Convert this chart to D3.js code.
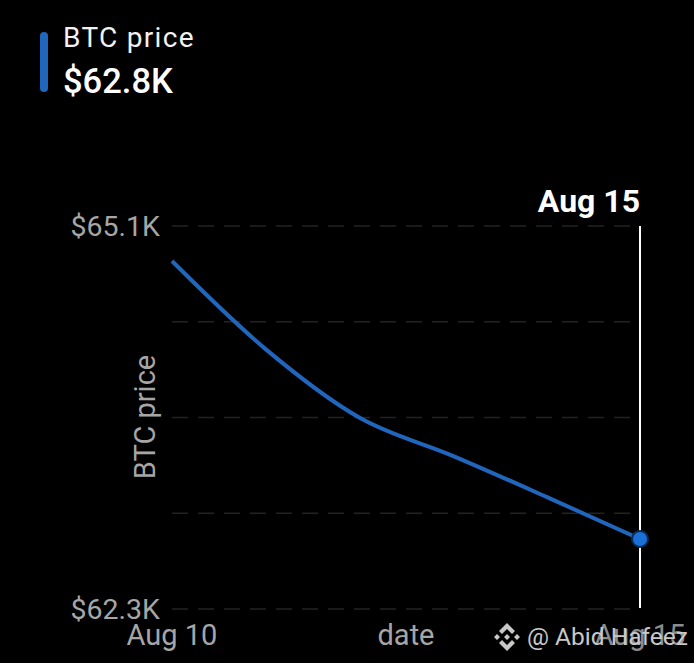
<!DOCTYPE html>
<html>

<head>
  <meta charset="utf-8">
  <script src="https://d3js.org/d3.v7.min.js"></script>
  <style>
    html, body {
      margin: 0;
      padding: 0;
      background: #000;
    }
    text {
      font-family: Roboto, sans-serif;
    }
  </style>
</head>

<body>
  <script>
    // values
    var days = [10, 11, 12, 13, 14, 15];
    var prices = [64.844, 64.2, 63.7, 63.42, 63.12, 62.812];
    var yTicks = [62.3, 63.0, 63.7, 64.4, 65.1];
    var yTickLabels = ["$62.3K", "", "", "", "$65.1K"];

    var seriesName = "BTC price";
    var currentLabel = "$62.8K";
    var xStart = "Aug 10";
    var xEnd = "Aug 15";
    var xTitle = "date";
    var watermark = "@ Abid Hafeez";

    var width = 694,
      height = 663;

    var svg = d3.select("body")
      .append("svg")
      .attr("width", width)
      .attr("height", height)
      .style("display", "block");

    var x = d3.scaleLinear().domain([10, 15]).range([172, 640]);
    var y = d3.scaleLinear().domain([62.3, 65.1]).range([609, 226]);

    // dashed grid
    svg.selectAll(".grid")
      .data(yTicks)
      .enter()
      .append("line")
      .attr("class", "grid")
      .attr("x1", 172)
      .attr("x2", 632)
      .attr("y1", function(d) { return y(d); })
      .attr("y2", function(d) { return y(d); })
      .attr("stroke", "#232323")
      .attr("stroke-width", 1.5)
      .attr("stroke-dasharray", "16,10");

    // y tick labels
    svg.selectAll(".ytick")
      .data(yTicks)
      .enter()
      .append("text")
      .attr("class", "ytick")
      .attr("x", 160)
      .attr("y", function(d) { return y(d) + 10; })
      .attr("text-anchor", "end")
      .attr("fill", "#a6a6a6")
      .style("font-size", "28.5px")
      .text(function(d, i) { return yTickLabels[i]; });

    // x labels
    svg.append("text")
      .attr("x", x(10))
      .attr("y", 645)
      .attr("text-anchor", "middle")
      .attr("fill", "#a6a6a6")
      .style("font-size", "29px")
      .text(xStart);

    svg.append("text")
      .attr("x", 640)
      .attr("y", 645)
      .attr("text-anchor", "middle")
      .attr("fill", "#8c8c8c")
      .style("font-size", "29px")
      .text(xEnd);

    svg.append("text")
      .attr("x", 406)
      .attr("y", 645)
      .attr("text-anchor", "middle")
      .attr("fill", "#a6a6a6")
      .style("font-size", "29px")
      .text(xTitle);

    // y axis title
    svg.append("text")
      .attr("transform", "translate(155,417) rotate(-90)")
      .attr("text-anchor", "middle")
      .attr("fill", "#a6a6a6")
      .style("font-size", "29px")
      .text(seriesName);

    // cursor line
    svg.append("line")
      .attr("x1", x(15))
      .attr("x2", x(15))
      .attr("y1", 226)
      .attr("y2", 608)
      .attr("stroke", "#fff")
      .attr("stroke-width", 2);

    svg.append("text")
      .attr("x", 640)
      .attr("y", 212)
      .attr("text-anchor", "end")
      .attr("fill", "#fff")
      .style("font-size", "32px")
      .style("font-weight", 700)
      .text(xEnd);

    // price line
    var line = d3.line()
      .x(function(d, i) { return x(days[i]); })
      .y(function(d) { return y(d); })
      .curve(d3.curveMonotoneX);

    svg.append("path")
      .attr("d", line(prices))
      .attr("fill", "none")
      .attr("stroke", "#2166bd")
      .attr("stroke-width", 4);

    svg.append("circle")
      .attr("cx", x(15))
      .attr("cy", y(prices[prices.length - 1]))
      .attr("r", 8)
      .attr("fill", "#1a70d8")
      .attr("stroke", "#0b2a52")
      .attr("stroke-width", 2);

    // legend
    svg.append("rect")
      .attr("x", 40)
      .attr("y", 32)
      .attr("width", 8)
      .attr("height", 60)
      .attr("rx", 4)
      .attr("fill", "#2166bd");

    svg.append("text")
      .attr("x", 63)
      .attr("y", 47)
      .attr("fill", "#f2f2f2")
      .style("font-size", "28px")
      .style("letter-spacing", "1.3px")
      .text(seriesName);

    svg.append("text")
      .attr("x", 63)
      .attr("y", 93)
      .attr("fill", "#fff")
      .style("font-size", "34.5px")
      .style("font-weight", 500)
      .text(currentLabel);

    // watermark with the diamond logo
    var logo = svg.append("g")
      .attr("transform", "translate(507,637)")
      .attr("fill", "#c8c8c8");

    logo.append("path")
      .attr("d", "M0,-14L8,-6L5,-3L0,-8L-5,-3L-8,-6ZM0,14L8,6L5,3L0,8L-5,3L-8,6ZM0,-3L3,0L0,3L-3,0ZM-13,0L-10,-3L-7,0L-10,3ZM13,0L10,-3L7,0L10,3Z");

    svg.append("text")
      .attr("x", 527)
      .attr("y", 645)
      .attr("fill", "#c8c8c8")
      .style("font-size", "24.5px")
      .text(watermark);
  </script>
</body>

</html>
